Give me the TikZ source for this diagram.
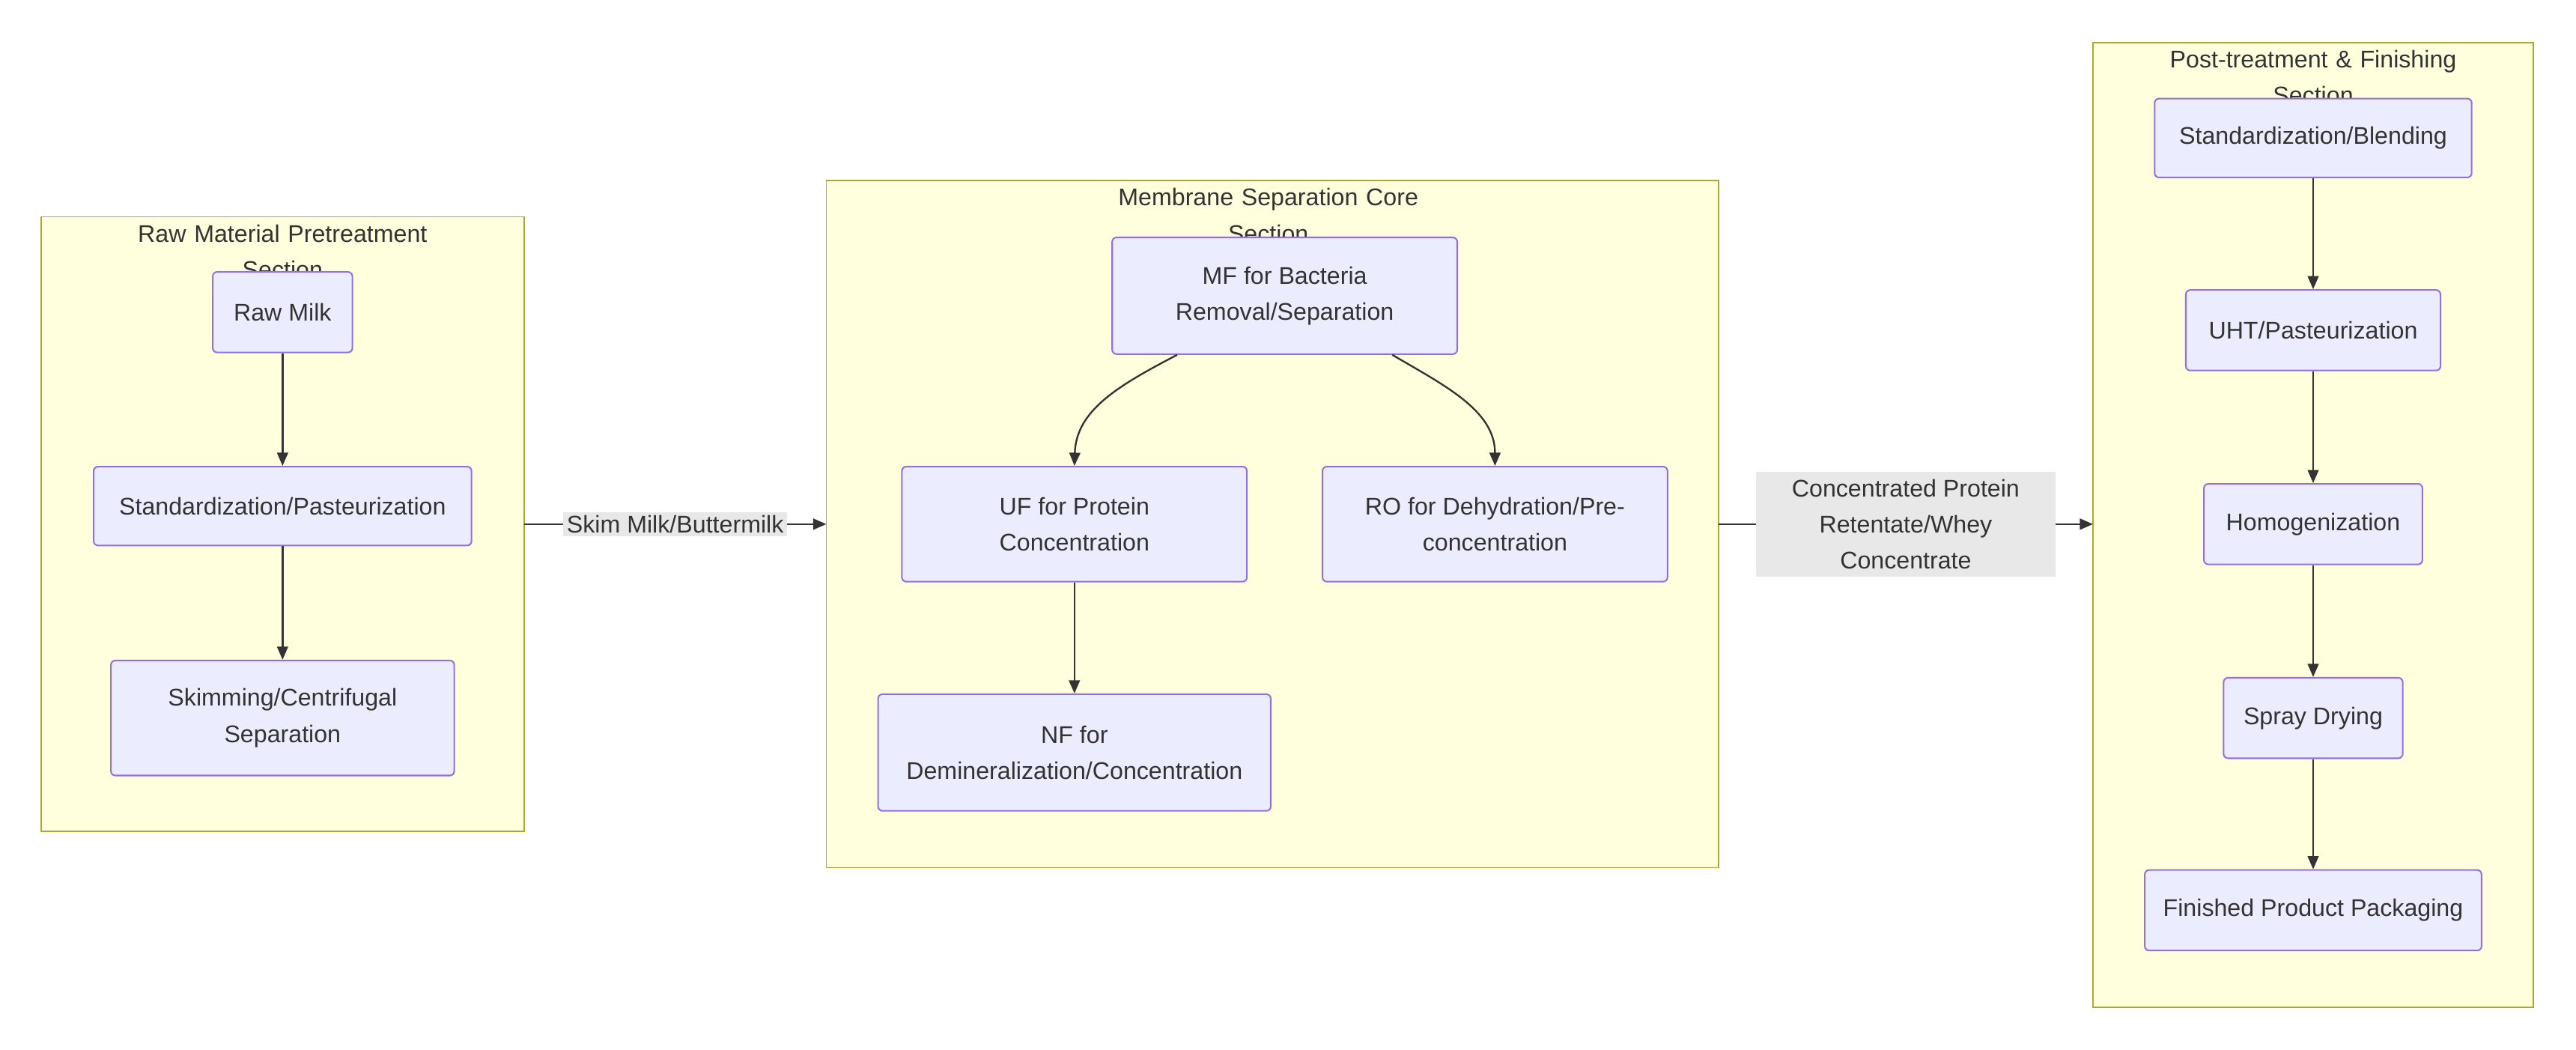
\documentclass[tikz,border=0pt]{standalone}
\usepackage{fontspec}
\setmainfont{Liberation Sans}
\usetikzlibrary{arrows.meta}
\definecolor{nf}{HTML}{ECECFF}\definecolor{nb}{HTML}{9370DB}
\definecolor{cf}{HTML}{FFFFDE}\definecolor{cb}{HTML}{AAAA33}
\definecolor{lb}{HTML}{E8E8E8}\definecolor{ar}{HTML}{333333}
\begin{document}
\begin{tikzpicture}[x=0.75pt,y=-0.75pt,
 font=\fontsize{11}{16.5}\selectfont, text=ar,
 clus/.style={draw=cb,fill=cf,line width=0.6pt},
 box/.style={draw=nb,fill=nf,line width=0.7pt,rounded corners=2pt,align=center,inner sep=0pt},
 title/.style={align=center,text width=200pt},
 arr/.style={draw=ar,line width=0.8pt,-{Triangle[length=6pt,width=5pt]}},
 lab/.style={fill=lb,align=center,inner sep=1.5pt}]
\useasboundingbox (0,0) rectangle (1568,639);
\draw[clus] (25,132) rectangle (319,506);
\draw[clus] (503,110) rectangle (1046,528);
\draw[clus] (1274,26) rectangle (1542,613);
\node[title] (t1) at (172,153) {Raw Material Pretreatment\\Section};
\node[title] (t2) at (772,131) {Membrane Separation Core\\Section};
\node[title] (t3) at (1408,47) {Post-treatment \& Finishing\\Section};
\node[box,minimum width=85*0.75pt,minimum height=49*0.75pt] (raw) at (172,190) {Raw Milk};
\node[box,minimum width=230*0.75pt,minimum height=48*0.75pt] (sp) at (172,308) {Standardization/Pasteurization};
\node[box,minimum width=209*0.75pt,minimum height=70*0.75pt] (sk) at (172,437) {Skimming/Centrifugal\\Separation};
\node[box,minimum width=210*0.75pt,minimum height=71*0.75pt] (mf) at (782,180) {MF for Bacteria\\Removal/Separation};
\node[box,minimum width=210*0.75pt,minimum height=70*0.75pt] (uf) at (654,319) {UF for Protein\\Concentration};
\node[box,minimum width=210*0.75pt,minimum height=70*0.75pt] (ro) at (910,319) {RO for Dehydration/Pre-\\concentration};
\node[box,minimum width=239*0.75pt,minimum height=71*0.75pt] (nf) at (654,458) {NF for\\Demineralization/Concentration};
\node[box,minimum width=193*0.75pt,minimum height=48*0.75pt] (sb) at (1408,84) {Standardization/Blending};
\node[box,minimum width=155*0.75pt,minimum height=49*0.75pt] (uht) at (1408,201) {UHT/Pasteurization};
\node[box,minimum width=133*0.75pt,minimum height=49*0.75pt] (ho) at (1408,319) {Homogenization};
\node[box,minimum width=109*0.75pt,minimum height=49*0.75pt] (sd) at (1408,437) {Spray Drying};
\node[box,minimum width=205*0.75pt,minimum height=49*0.75pt] (fp) at (1408,554) {Finished Product Packaging};
\coordinate (c1r) at (319,319); \coordinate (c2l) at (503,319);
\coordinate (c2r) at (1046,319); \coordinate (c3l) at (1274,319);
\draw[arr] (raw) -- (sp);
\draw[arr] (sp) -- (sk);
\draw[arr] (uf) -- (nf);
\draw[arr] (mf.south west)++(40*0.75pt,0) coordinate (m1) .. controls (680,235) and (655,250) .. (uf.north);
\draw[arr] (mf.south east)++(-40*0.75pt,0) coordinate (m2) .. controls (880,235) and (910,250) .. (ro.north);
\draw[arr] (sb) -- (uht);
\draw[arr] (uht) -- (ho);
\draw[arr] (ho) -- (sd);
\draw[arr] (sd) -- (fp);
\draw[arr] (c1r) -- node[lab] (l1) {Skim Milk/Buttermilk} (c2l);
\draw[arr] (c2r) -- node[lab,minimum width=182*0.75pt,minimum height=64*0.75pt] (l2) {Concentrated Protein\\Retentate/Whey\\Concentrate} (c3l);
\end{tikzpicture}
\end{document}
